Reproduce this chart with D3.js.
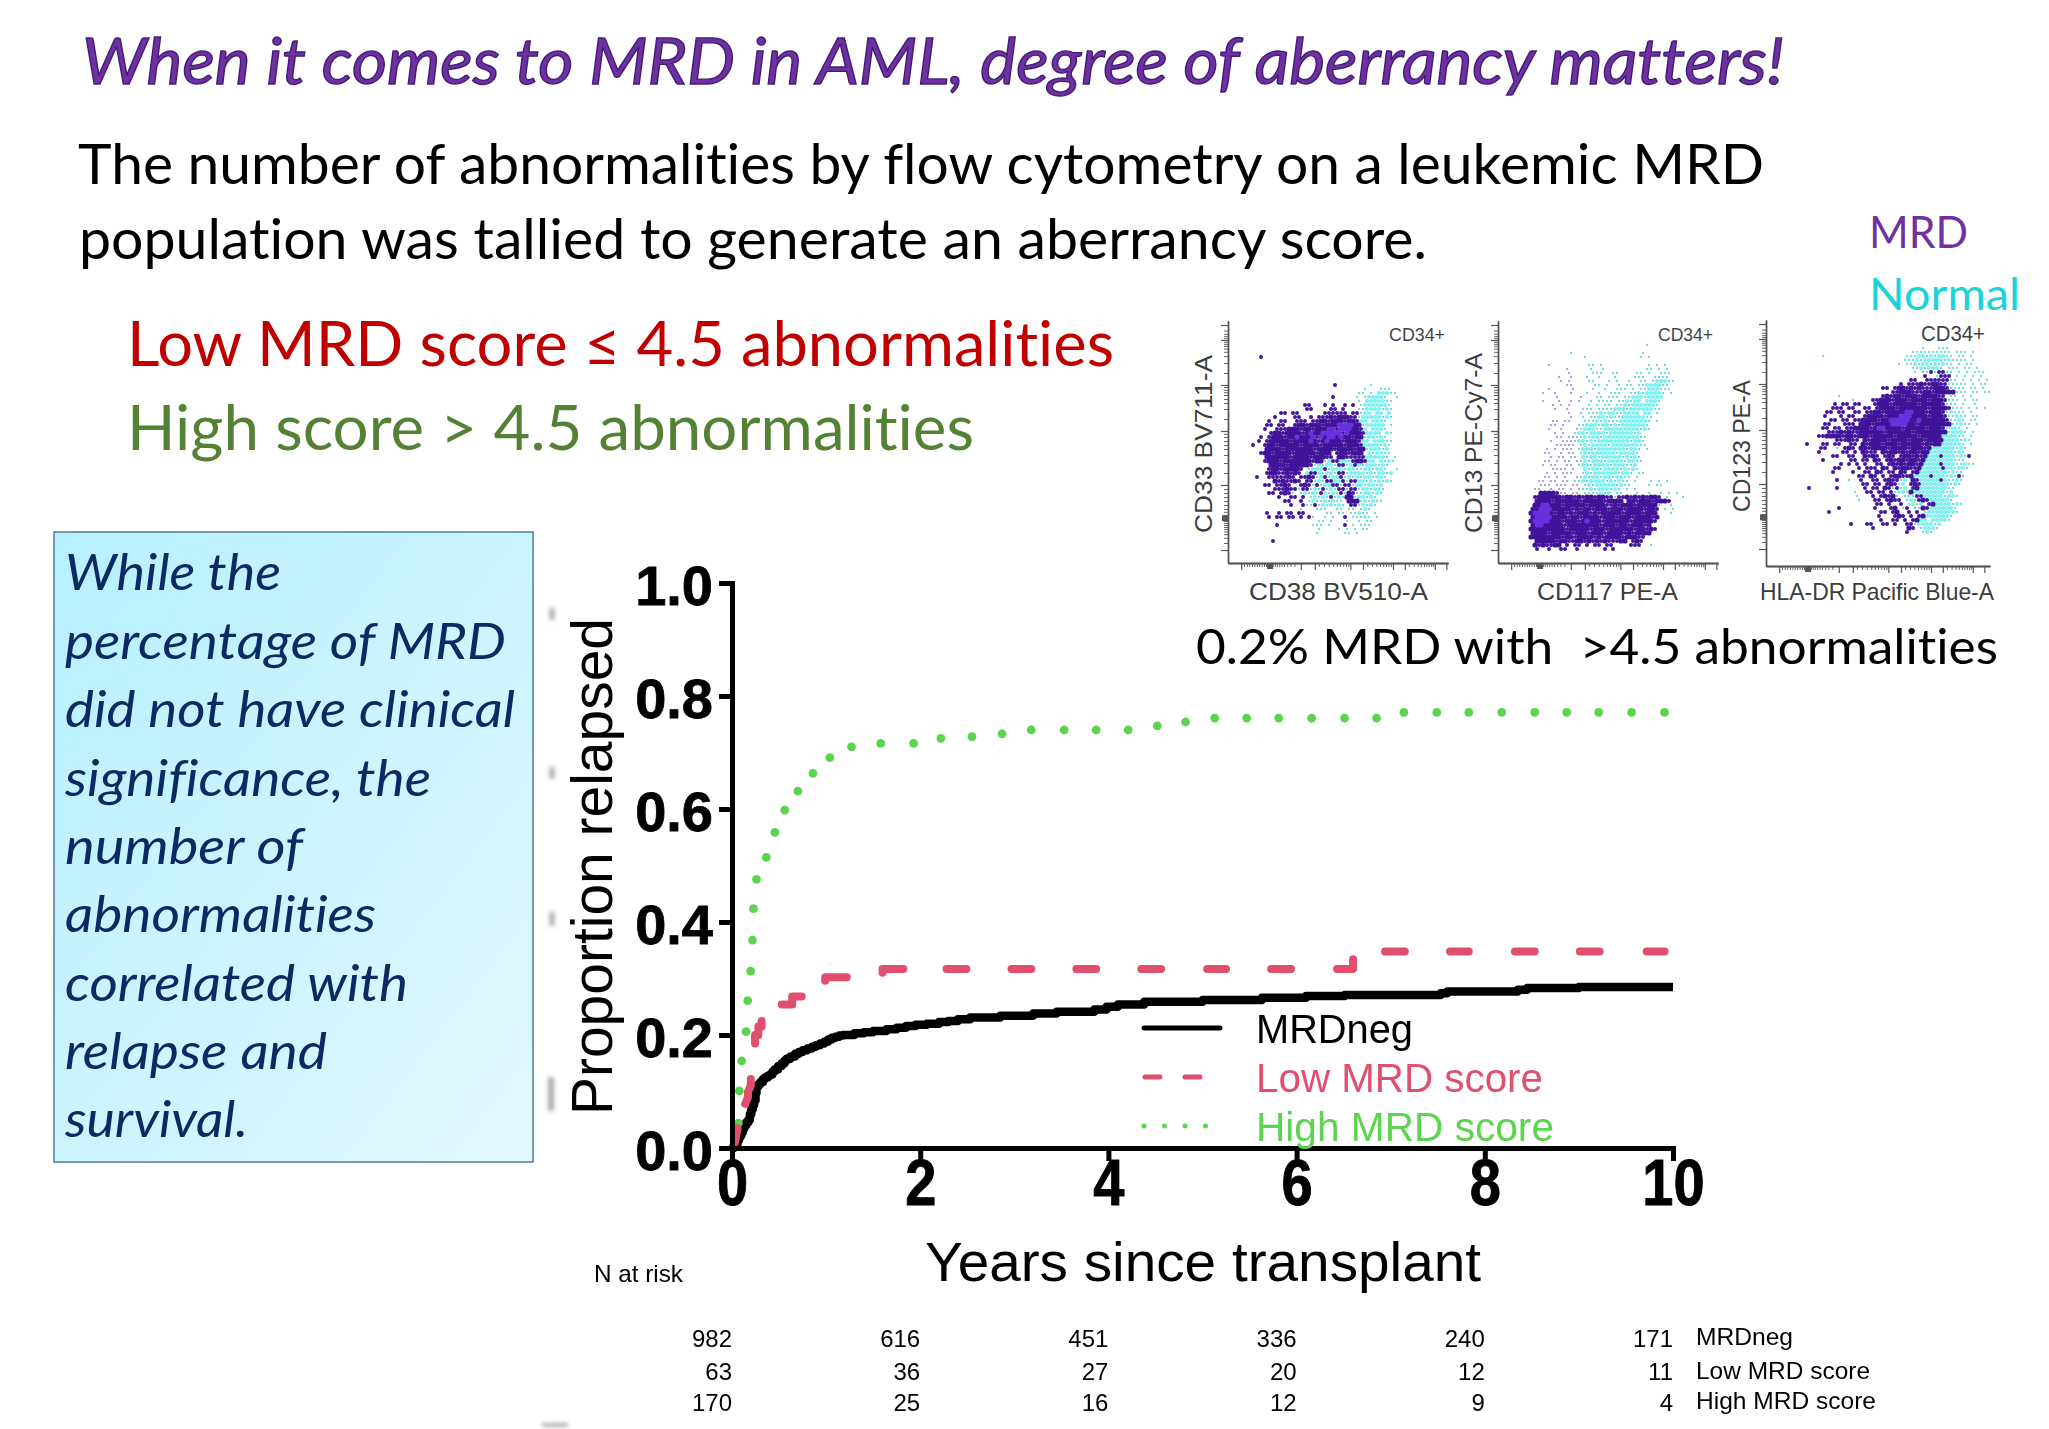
<!DOCTYPE html>
<html>
<head>
<meta charset="utf-8">
<title>MRD aberrancy score and relapse</title>
<script src="https://cdnjs.cloudflare.com/ajax/libs/d3/7.8.5/d3.min.js"></script>
<style>
  html, body { margin: 0; padding: 0; background: #fff; }
  svg { display: block; }
  text { white-space: pre; font-variant-ligatures: none; }
</style>
</head>
<body>
<svg id="slide" width="2049" height="1429" viewBox="0 0 2049 1429"></svg>
<script>
// ---- Cumulative relapse curves: [years since transplant, proportion relapsed] ----
const mrdNegTimes = [0,.02,.04,.06,.075,.085,.1,.115,.13,.15,.173,.19,.205,.22,.235,.25,.26,.28,.3,.33,.35,.38,.404,.43,.45,.49,.528,.56,.58,.62,.67,.71,.75,.8,.85,.89,.935,.98,1.02,1.06,1.1,1.14,1.18,1.3,1.4,1.5,1.64,1.75,1.85,1.95,2.07,2.2,2.3,2.4,2.53,2.85,3.2,3.45,3.85,3.98,4.1,4.38,5.0,5.63,6.1,6.51,7.53,7.6,8.35,8.45,9.0,10];
const mrdNegValues = [0,.003,.008,.014,.018,.022,.028,.034,.04,.045,.05,.06,.068,.076,.084,.097,.109,.113,.117,.122,.125,.128,.13,.135,.139,.145,.15,.155,.158,.162,.167,.17,.173,.176,.179,.182,.185,.188,.192,.195,.197,.199,.2,.203,.205,.207,.21,.213,.216,.218,.22,.223,.225,.228,.231,.234,.238,.241,.245,.25,.254,.259,.262,.266,.269,.271,.274,.277,.28,.283,.285,.285];

// The low-score curve is a dashed step line; each run is one visible dash.
const lowScoreRuns = [
  [[0,0],[.03,.01],[.06,.035]],
  [[.14,.078],[.17,.09],[.17,.1],[.2,.11],[.2,.122]],
  [[.245,.185],[.245,.2],[.28,.2],[.28,.215],[.315,.215],[.315,.225]],
  [[.53,.254],[.64,.254],[.64,.268],[.74,.268]],
  [[.99,.296],[.99,.302],[1.22,.302]],
  [[1.6,.31],[1.6,.317],[1.82,.317]],
  [[2.28,.317],[2.49,.317]],
  [[2.97,.317],[3.18,.317]],
  [[3.66,.317],[3.87,.317]],
  [[4.35,.317],[4.56,.317]],
  [[5.05,.317],[5.25,.317]],
  [[5.73,.317],[5.94,.317]],
  [[6.43,.317],[6.6,.317],[6.6,.334]],
  [[6.94,.348],[7.15,.348]],
  [[7.63,.348],[7.83,.348]],
  [[8.32,.348],[8.53,.348]],
  [[9.01,.348],[9.22,.348]],
  [[9.72,.348],[9.91,.348]]
];

const highScoreTimes = [.067,.078,.103,.149,.167,.198,.217,.228,.26,.365,.455,.56,.70,.86,1.04,1.27,1.58,1.93,2.22,2.55,2.87,3.18,3.53,3.87,4.21,4.52,4.82,5.13,5.47,5.81,6.16,6.51,6.85,7.14,7.49,7.83,8.18,8.53,8.87,9.21,9.56,9.91];
const highScoreValues = [.044,.101,.154,.206,.261,.313,.368,.4235,.4756,.5145,.5586,.598,.6317,.663,.691,.71,.716,.716,.725,.728,.733,.74,.74,.74,.74,.747,.754,.761,.761,.761,.761,.761,.761,.771,.771,.771,.771,.771,.771,.771,.771,.771];

const xTicks = [0,2,4,6,8,10];
const yTicks = [0,.2,.4,.6,.8,1];

const riskYears = [0,2,4,6,8,10];
const riskMrdNeg = [982,616,451,336,240,171];
const riskLow = [63,36,27,20,12,11];
const riskHigh = [170,25,16,12,9,4];
const riskNames = ["MRDneg","Low MRD score","High MRD score"];
const riskNameEnds = [1793,1870,1876];

// ---- Flow cytometry density maps: one string per row, one character per cell ----
// P, B dense MRD events; o sparse MRD; c dense normal; . sparse normal; - faint MRD gate
const cd33FirstRow = 9;
const cd33Rows = [
"        o","","","","","","",
"                          o        .",
"                                  .   ...",
"                                .. . ccc..",
"                          o     . .cccc.  .",
"                                . ccccc..",
"                   oo   o o  o o .cccccc.",
"                   oo    oo o   ..cccc.c.",
"             oo oo      oooooo oo.cc cc c",
"           o    oo  o oooPoPPPoo.ccccc.c.",
"          o  oo  ooo ooPPoPPPoPPocc ccc.",
"         oo oo  oPPoPPPoPPPBBBBPP.ccccc .",
"         o  oooPPPoPPoPPPBBoBBBPPoc ccc.",
"          oPPoPPPPoPBPPBBBBBoBPPPocccc c.",
"        o oPPPoPPBPPPBoBPBBPBPPoPP.cc.c.",
"       o oPPPPPoPPPPBPoPBPPPoPPPocc ccc..",
"      o  oPPoPPPPPoPPPPoPPPPPoPPPocccc.c.",
"         PPPPoPPPPPPPoPPPPoPPPPoPP.ccc.c",
"        oPPoPPPPoPPPPPoPPP oPPoPPP c.cc..",
"         PPPPPPoPPPPoPPPoo PPoooooccccc. .",
"         oPPPoPPPPPPPoPP.coocccoPPocc c.c.",
"          PPPPoPPPPPo.c.cc.oo.coc.ccc.c.",
"          oPPoPPPPo .ccco.ccc.cc..cc.cc.  .",
"         oPPooPoPo cooc.cc.oo.cccc.c.cc.c",
"       o  oooooPo ooPo.co.cco.c.c.cc.cc.",
"           PoPooPo oo.c.oocco.oocc.c.c.c.",
"         oo ooPo  oPo.o.ccoo.oo.cc.cc.c",
"           oooPoo.oo.c.o.c.oo.oo.cc.cc.",
"          oo oPo. .c.c.oc.c.o.Po..cc.c.",
"            o  oo o .c.c.o.c.PP.cc.c.",
"              oo  o .c..c.c.. PPP.c.c..",
"               o  o..o.c.c.c. oo.c.c.",
"                  .   ...  .. .. .c.",
"         o  o oo oo     .. .. ..c.. .",
"          o oo oo o o.  . .  o ...c. .",
"                      .. .   .  . ..",
"            o        ... .   o . ...",
"                      .    . . . ..",
"                      .      .. .",
"",
"           o"
];

const cd13FirstRow = 6;
const cd13Rows = [
"                                     .","",
"                  .                 .",
"                     .             . .",
"",
"            -         .. .           . . .",
"                 -     .  .          .. . .",
"                 -     ...  ..    .. .  ...",
"               -  -   .  .   .    ...  ....",
"               - -    ..   . .  .  .. .ccc..",
"                 --     .. .  . .. ..cccc..",
"            -     -    .  .  ... . ..ccc...",
"           -  -   -   .  .  ...  ..c.cccc. .",
"              -     -   .. ... ..ccc.cccc",
"           -   -  - -  . .... ..c.cc ccc.",
"             - - -    . . .. ..c.cccccc.",
"              -  -   ... ....ccc.cccccc..",
"                 -  - ...c.cc..cccc cc .",
"                  -  . ..cc.c..cccccc..",
"             -- --   ...c.c...ccccccc. .",
"             -- -   ..ccc.cc.c.cccccc.",
"            -  -   -.ccc..ccccccccc.c.",
"              - -  .cc.cccc.cccccc.c",
"              -- ---.c.cc.ccccccccc..",
"             -  ---.cc.c.cccccccc.cc.",
"              ----- .c.cccc.ccccccc..",
"            - - --- .ccc.ccccccc.cc. .",
"           --  - -- .c.cccccc.cccc.",
"             - -- -- c.cc.ccccc.c.c.",
"           -- - -- -.c.ccc.cccc.cc..",
"           - --  -- .cc.cccc.ccc..c",
"             ---- -  c.cc.cccc.c.c.",
"            - - ---  .c.cccccc.cc. ..",
"           -- - -  -.c.cc.cc.cc.. .",
"          -- -- -- ..c.cccc.c.c.. .   . . .",
"          --- --- -- .c.ccccc.c..    . ..",
"         --  - -- - -..c.ccc.c. . .",
"          PPPPo-- -- ....c.c ..   .  .  . . .",
"         oPPPPPPoPPoPoPPoPPoo.ooPoPoPoPPo .   .",
"         PPPPoPPPPPPoPPPPPoPPPP PPoPPPoPPPo",
"         PPBBPPPoPPPPPoPPPPooPoPPPoPPPPP.  .",
"        PPBBBPPPPPoPoPPoPPPoPPPoPPPPoPPo . .",
"        PBBBBPoPPoPoPPPoPoPPPPPoPPPPoPPP   .",
"        PBBBBPPPPoPPoPPPPoPPPoPPPoPPPPoP",
"        PBBBBPPPoPPPoPBPPPoPPPPPPoPPPPPo",
"        PBBPPPPPoPPPPPPPPoPPPoPPoPPPoP",
"        PPPPPPPPPoPPPPPoPPPoPPPPPPoPPoPo",
"        PPPPoPPPPPoPPPoPPPoPPPPoPoPPPP",
"        PPPPPPPPoPPoPPPPoPoPPPPoPPPoo",
"         PPPPPoPPooPPoPoPoPoooPP oPo",
"         PoPooPP o oo o oo oo    ooo  .",
"         o  o  oo  o      o o"
];

const cd123FirstRow = 7;
const cd123Rows = [
"                                       .   ...",
"                                    .......... ... .",
"              .                    ...cc.c.cc.. .. .",
"                                  ...c.ccccc.c.... .",
"                                 . ..c.cc.c.c.. . ..",
"                                    ..c.ccc. ... .. .",
"                                     . ..o.oo.. . . ...",
"                                       o  .ooo . . . .",
"                                    oo  oooooo.. . . . .",
"                                 o oooPooPPoo..... . ..",
"                             oo oPPoPoPoooPPPo.... .. .",
"                               ooPPPoooPPoPPPPP... .. ..",
"                  .          oPoPPoPPPoPPPPoo .. . .",
"                     .    ooPPPoPPPoPPPPoPPPo... . ..",
"                 o oo oo   oPPPoPPPPPPoPPPPPo... .  .",
"                ooo oo  oo oPPPPoPPPPPPPoPPPPo... . . .",
"               oo oo  oo ooPPoPPPPPBBPPPoPPPo.c... .",
"              o   o oo  oPPPPoPPPBBBPPPPoPPPo..c.. ..",
"                oo oo ooPPPPoPPBBBBBPPBPPPPPPo..c. ..",
"              oo   ooo PPPoPPPPBBBBPPoPPPPPPPP..c.. .",
"              oo oo ooPPPPoPBBPPPPoPPPPPoPPPo.cc. .",
"               oooPoPooPPPPPPoPPPPPPoPPPPPPPP.ccc. .",
"             ooPPPPoPPoPPPoPPPPPoPPPPPoPPPPPcccc.. .",
"                 oooPoo PoPPPPoPPPPoPPPoPPPPcccc.c.",
"          o   oo oo  oo PoPPPoPPPoPPPPPoPoPPccccc. .",
"             oo  . oPo PPoPPPPoPPPPoPPPoPcccccc.c.",
"             o     oo o Pooo PoPPoPoPPoPPcccccc.c.",
"                oo  oo  PoPo oPo oPPoPoPcccoccc.c.o",
"              o      oo oo Po oPoPPoPPoPccccccc...",
"                  o o o o  oo oPoPoPPoPccccoccc..c..",
"                 oo    o ooo Po PoPPooPcccccocc.cc.",
"                o    o  oo Po oo Po oPccccccc.c..",
"                       oo Po o oPPooPccccoccc.c.o.",
"                 o  .  o  oo oPoo.c Pocccccoc..c.",
"                        oo oo oPo.c oPoccccccc.c.",
"          o      o      o oo Po.o.c oPccccccc..",
"                      .  oo oo o.cc.Pcccccccc.c",
"                      .   o oPoP. .c.ooccccc.cc.",
"                       .   oo oPoo .c.oPoccccc.",
"                           oo o  o .c.c oPcccc.c.",
"                  o        o   oP .o ..Pocccccc.",
"               o            oo oP  o o .ccccccc.",
"                            o   oPo o oPcccccc.",
"                            o  oo o oPcc cccc.",
"                     o   oo  oo o  oo.cccc.c",
"                          o        Po .ccc.",
"                                   o   .c."
];

// Tick positions on the flow axes, in map cells
const flowXMajor = [3.3,18.2,21.7,30.6,33.75,41.25,44.2,51.7,54.6];
const flowXMinor = [4,4.7,5.3,6,6.6,7.2,7.8,8.4,9,9.5,10,10.8,11.2,11.7,12.2,12.8,13.4,14,14.8,15.6,16.6,22.7,24,25.2,26.3,27.2,28,28.8,29.5,30.1,34.8,36,37.1,38,38.8,39.5,40.1,40.7,45.2,46.4,47.4,48.2,49,49.6,50.2,50.8,51.3];
const flowXZero = [10.4];
const flowYMajor = [1,4.75,16,27.5,41,57.25];
const flowYMinor = [2.4,3.2,3.8,4.3,5.2,5.7,6.2,6.9,7.7,8.8,10.5,13,16.5,17.2,17.8,18.5,19.5,20.5,22,24.5,28.2,29,30,31,32,33.5,35.5,38,42,43,44,45,46,47,47.7,48.5,49.6,50,50.5,51,51.5,52,52.6,53.3,54.2,55.5];
const flowYZero = [49.2];

const flowPanels = [
  { rows: cd33Rows, first: cd33FirstRow, left: 1228, top: 321, cols: 55, lines: 60.5, xName: "CD38 BV510-A", xFrom: 1249, xTo: 1428, yName: "CD33 BV711-A", yBase: 1212, yFrom: 355, yTo: 533, tagFrom: 1389, tagTo: 1445, tagSize: 19 },
  { rows: cd13Rows, first: cd13FirstRow, left: 1498, top: 321, cols: 55, lines: 60.5, xName: "CD117 PE-A", xFrom: 1537, xTo: 1678, yName: "CD13 PE-Cy7-A", yBase: 1482, yFrom: 353, yTo: 533, tagFrom: 1658, tagTo: 1713, tagSize: 19 },
  { rows: cd123Rows, first: cd123FirstRow, left: 1766, top: 320, cols: 56, lines: 61.5, xName: "HLA-DR Pacific Blue-A", xFrom: 1760, xTo: 1994, yName: "CD123 PE-A", yBase: 1750, yFrom: 380, yTo: 512, tagFrom: 1921, tagTo: 1985, tagSize: 22 }
];

// ---- Slide wording ----
const summaryLines = ["While the","percentage of MRD","did not have clinical","significance, the","number of","abnormalities","correlated with","relapse and","survival."];
const summaryEnds = [281,506,515,431,303,376,408,327,248];
const summaryBaselines = [590,659,727,796,864,932,1001,1069,1137];

const CALIBRI = "Lato, 'Noto Sans', sans-serif";
const HELV = "'Liberation Sans', Arial, sans-serif";

const svg = d3.select("#slide");
const defs = svg.append("defs");

const boxFill = defs.append("linearGradient").attr("id", "boxFill")
  .attr("x1", "0%").attr("y1", "0%").attr("x2", "100%").attr("y2", "100%");
boxFill.append("stop").attr("offset", "0%").attr("stop-color", "#b6f0ff");
boxFill.append("stop").attr("offset", "100%").attr("stop-color", "#e3f8ff");

defs.append("filter").attr("id", "smudge").append("feGaussianBlur").attr("stdDeviation", 2.2);

// Fitted text: the run is pressed to an exact horizontal extent
function fitted(sel, str, x0, x1, baseline, size, fill, family, extra) {
  const t = sel.append("text")
    .attr("x", x0).attr("y", baseline)
    .attr("textLength", x1 - x0).attr("lengthAdjust", "spacingAndGlyphs")
    .attr("font-family", family).attr("font-size", size).attr("fill", fill)
    .text(str);
  if (extra) extra(t);
  return t;
}

// ---- Headline block ----
fitted(svg, "When it comes to MRD in AML, degree of aberrancy matters!", 82, 1784, 84, 64, "#7030a0", CALIBRI, t =>
  t.attr("font-style", "italic").attr("stroke", "#3f1d78").attr("stroke-width", 1.4));
fitted(svg, "The number of abnormalities by flow cytometry on a leukemic MRD", 78, 1764, 184, 56, "#000", CALIBRI);
fitted(svg, "population was tallied to generate an aberrancy score.", 79, 1427, 259, 56, "#000", CALIBRI);
fitted(svg, "Low MRD score \u2264 4.5 abnormalities", 127, 1114, 366, 61, "#c00000", CALIBRI);
fitted(svg, "High score > 4.5 abnormalities", 127, 974, 450, 61, "#548235", CALIBRI);
fitted(svg, "MRD", 1869, 1968, 248, 45, "#7030a0", CALIBRI);
fitted(svg, "Normal", 1869, 2020, 310, 45, "#19d3d9", CALIBRI);
fitted(svg, "0.2% MRD with  >4.5 abnormalities", 1196, 1998, 664, 48, "#000", CALIBRI);

// ---- Summary box ----
svg.append("rect").attr("x", 54).attr("y", 532).attr("width", 479).attr("height", 630)
  .attr("fill", "url(#boxFill)").attr("stroke", "#4f7d9b").attr("stroke-width", 1.5);
const summary = svg.append("g");
summaryLines.forEach((line, i) => {
  fitted(summary, line, 65, summaryEnds[i], summaryBaselines[i], 50, "#0b2a63", CALIBRI, t => t.attr("font-style", "italic"));
});

// ---- Flow cytometry panels ----
const cellStyle = {
  ".": { r: 1.15, fill: "#70d8d8" },
  "-": { r: 1.1, fill: "#9c8ad6" },
  "c": { r: 2.1, fill: "#7df0f0" },
  "o": { r: 2.0, fill: "#43169a" },
  "P": { r: 2.6, fill: "#40149a" },
  "B": { r: 2.6, fill: "#6a2fdc" }
};
const paintOrder = [".", "-", "c", "o", "P", "B"];

flowPanels.forEach(panel => {
  const x = d3.scaleLinear().domain([0, panel.cols]).range([panel.left, panel.left + panel.cols * 4]);
  const y = d3.scaleLinear().domain([0, panel.lines]).range([panel.top, panel.top + panel.lines * 4]);
  const g = svg.append("g");

  const cells = [];
  panel.rows.forEach((row, i) => {
    Array.from(row).forEach((ch, col) => {
      if (ch !== " ") cells.push({ ch, col: col + (i % 2 ? 0.75 : 0.25), line: i + panel.first });
    });
  });
  cells.sort((a, b) => paintOrder.indexOf(a.ch) - paintOrder.indexOf(b.ch));
  g.selectAll("circle").data(cells).join("circle")
    .attr("cx", d => x(d.col)).attr("cy", d => y(d.line))
    .attr("r", d => cellStyle[d.ch].r).attr("fill", d => cellStyle[d.ch].fill);

  const bottom = y(panel.lines);
  const addAxis = (generator, at, width) => {
    const a = g.append("g").attr("transform", at).call(generator);
    a.selectAll("text").remove();
    a.selectAll("line").attr("stroke", "#555").attr("stroke-width", width);
    a.select(".domain").attr("stroke", "#555").attr("stroke-width", 1.3);
  };
  const atBottom = `translate(0,${bottom})`;
  const atLeft = `translate(${panel.left},0)`;
  addAxis(d3.axisBottom(x).tickValues(flowXMajor).tickSize(7).tickSizeOuter(0), atBottom, 1.2);
  addAxis(d3.axisBottom(x).tickValues(flowXMinor).tickSize(4).tickSizeOuter(0), atBottom, 0.9);
  addAxis(d3.axisBottom(x).tickValues(flowXZero).tickSize(6).tickSizeOuter(0), atBottom, 6);
  addAxis(d3.axisLeft(y).tickValues(flowYMajor).tickSize(7).tickSizeOuter(0), atLeft, 1.2);
  addAxis(d3.axisLeft(y).tickValues(flowYMinor).tickSize(4).tickSizeOuter(0), atLeft, 0.9);
  addAxis(d3.axisLeft(y).tickValues(flowYZero).tickSize(6).tickSizeOuter(0), atLeft, 6);

  fitted(g, panel.xName, panel.xFrom, panel.xTo, 600, 24, "#3c3c3c", HELV);
  fitted(g, "CD34+", panel.tagFrom, panel.tagTo, 341, panel.tagSize, "#444", HELV);
  g.append("text")
    .attr("transform", `translate(${panel.yBase},${panel.yTo}) rotate(-90)`)
    .attr("textLength", panel.yTo - panel.yFrom).attr("lengthAdjust", "spacingAndGlyphs")
    .attr("font-family", HELV).attr("font-size", 24).attr("fill", "#3c3c3c")
    .text(panel.yName);
});

// ---- Relapse chart ----
const x = d3.scaleLinear().domain([0, 10]).range([732, 1673]);
const y = d3.scaleLinear().domain([0, 1]).range([1148, 583]);
const BLACK = "#000", PINK = "#e0506e", GREEN = "#5dd44f";

// Soft marks left over beside the y title
const smudges = [[552, 614, 5, 12], [552, 773, 5, 12], [552, 919, 5, 14], [551, 1094, 6, 34], [555, 1425, 26, 4]];
svg.append("g").attr("filter", "url(#smudge)").selectAll("rect").data(smudges).join("rect")
  .attr("x", d => d[0] - d[2] / 2).attr("y", d => d[1] - d[3] / 2)
  .attr("width", d => d[2]).attr("height", d => d[3]).attr("fill", "#777").attr("opacity", .6);

const mrdNeg = mrdNegTimes.map((t, i) => [t, mrdNegValues[i]]);
const stepLine = d3.line().x(d => x(d[0])).y(d => y(d[1])).curve(d3.curveStepAfter);
const straight = d3.line().x(d => x(d[0])).y(d => y(d[1])).curve(d3.curveLinear);

svg.append("path").attr("d", stepLine(mrdNeg)).attr("fill", "none").attr("stroke", BLACK)
  .attr("stroke-width", 8.5).attr("stroke-linejoin", "round");

svg.append("g").selectAll("circle").data(highScoreTimes).join("circle")
  .attr("cx", d => x(d)).attr("cy", (d, i) => y(highScoreValues[i])).attr("r", 4.4).attr("fill", GREEN);

svg.append("g").selectAll("path").data(lowScoreRuns).join("path")
  .attr("d", straight).attr("fill", "none").attr("stroke", PINK).attr("stroke-width", 8)
  .attr("stroke-linecap", "round").attr("stroke-linejoin", "round");

const yAxis = svg.append("g").attr("transform", `translate(${x(0)},0)`)
  .call(d3.axisLeft(y).tickValues(yTicks).tickFormat(d3.format(".1f")).tickSize(13).tickSizeOuter(0).tickPadding(6));
const xAxis = svg.append("g").attr("transform", `translate(0,${y(0)})`)
  .call(d3.axisBottom(x).tickValues(xTicks).tickFormat(d3.format("d")).tickSize(13).tickSizeOuter(0));
[yAxis, xAxis].forEach(a => {
  a.selectAll("line").attr("stroke", "#000").attr("stroke-width", 5);
  a.select(".domain").attr("stroke", "#000").attr("stroke-width", 5).attr("stroke-linecap", "square");
  a.selectAll("text").attr("font-family", HELV).attr("font-weight", "bold").attr("font-size", 56)
    .attr("fill", "#000").attr("stroke", "#000").attr("stroke-width", 0.8);
});
yAxis.selectAll("text").attr("dy", "0.39em");
xAxis.selectAll("text").attr("dy", 0).attr("y", 49.5).attr("transform", "scale(1,1.15)");

svg.append("text")
  .attr("transform", "translate(612,1115) rotate(-90)")
  .attr("textLength", 497).attr("lengthAdjust", "spacingAndGlyphs")
  .attr("font-family", HELV).attr("font-size", 57).attr("fill", "#000")
  .text("Proportion relapsed");
fitted(svg, "Years since transplant", 925, 1481, 1281, 56, "#000", HELV);

// Legend
const legend = svg.append("g");
legend.append("line").attr("x1", 1144).attr("x2", 1220).attr("y1", 1028).attr("y2", 1028)
  .attr("stroke", BLACK).attr("stroke-width", 5).attr("stroke-linecap", "round");
legend.append("line").attr("x1", 1145).attr("x2", 1203).attr("y1", 1077).attr("y2", 1077)
  .attr("stroke", PINK).attr("stroke-width", 5).attr("stroke-linecap", "round").attr("stroke-dasharray", "15 25");
legend.append("line").attr("x1", 1144).attr("x2", 1206).attr("y1", 1126).attr("y2", 1126)
  .attr("stroke", GREEN).attr("stroke-width", 5).attr("stroke-linecap", "round").attr("stroke-dasharray", "0 20.5");
fitted(legend, "MRDneg", 1256, 1413, 1043, 40, BLACK, HELV);
fitted(legend, "Low MRD score", 1256, 1543, 1092, 40, PINK, HELV);
fitted(legend, "High MRD score", 1256, 1554, 1141, 40, GREEN, HELV);

// Number-at-risk table
fitted(svg, "N at risk", 594, 683, 1282, 24, "#000", HELV);
[riskMrdNeg, riskLow, riskHigh].forEach((row, i) => {
  const rowBase = [1347, 1380, 1411][i];
  svg.append("g").selectAll("text").data(row).join("text")
    .attr("x", (d, j) => x(riskYears[j])).attr("y", rowBase)
    .attr("text-anchor", "end").attr("font-family", HELV).attr("font-size", 24).attr("fill", "#000")
    .text(d => d);
  fitted(svg, riskNames[i], 1696, riskNameEnds[i], [1345, 1379, 1409][i], 24, "#000", HELV);
});
</script>
</body>
</html>
